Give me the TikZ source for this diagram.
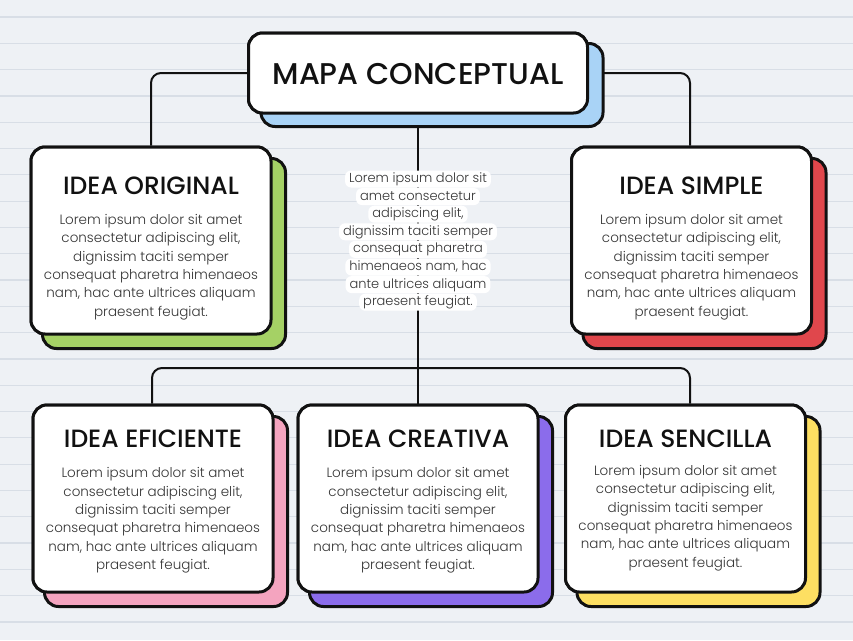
\documentclass[tikz,border=0pt]{standalone}
\usepackage{fontspec}
\newfontfamily\bodyfont{Poppins Light}
\newfontfamily\headfont{Poppins Medium}
\definecolor{paper}{HTML}{EEF1F5}
\definecolor{rule}{HTML}{D8DEE6}
\definecolor{ink}{HTML}{111111}
\definecolor{txt}{HTML}{353535}
\definecolor{blueS}{HTML}{A9D3F6}
\definecolor{greenS}{HTML}{A5D165}
\definecolor{redS}{HTML}{E0474C}
\definecolor{pinkS}{HTML}{F4A4BF}
\definecolor{purpleS}{HTML}{8B6CEB}
\definecolor{yellowS}{HTML}{FDDF62}
\pgfdeclarelayer{paperlayer}
\pgfdeclarelayer{connlayer}
\pgfsetlayers{paperlayer,connlayer,main}
\tikzset{
  frontbox/.style={draw=ink, fill=white, line width=3pt, rounded corners=14pt, inner sep=0pt},
  shadowbox/.style={draw=ink, line width=3pt, rounded corners=14pt},
  conn/.style={draw=ink, line width=2pt, rounded corners=10pt},
  headtxt/.style={font=\headfont\fontsize{25}{28}\selectfont, text=ink, inner sep=0pt},
  bodytxt/.style={font=\bodyfont\fontsize{13.5}{18.4}\selectfont, text=txt, align=center, inner sep=0pt},
  centtxt/.style={font=\bodyfont\fontsize{13}{17.6}\selectfont, text=txt, inner xsep=4pt, inner ysep=0pt, text height=12pt, text depth=5pt, anchor=base},
}
\newcommand\ideabox[9]{%
  % #1 name, #2 cx, #3 cy, #4 color, #5 title, #6 title y, #7 body y, #8 shift x, #9 shift y
  \node[frontbox, minimum width=240pt, minimum height=187pt] (#1) at (#2,#3) {};
  \draw[shadowbox, fill=#4] ([shift={(#8pt,-#9pt)}]#1.south west) rectangle ([shift={(#8pt,-#9pt)}]#1.north east);
  \node[frontbox, minimum width=240pt, minimum height=187pt] at (#1) {};
  \node[headtxt] (#1-head) at (#2,#6) {#5};
  \node[bodytxt] (#1-body) at (#2,#7) {Lorem ipsum dolor sit amet\\consectetur adipiscing elit,\\dignissim taciti semper\\consequat pharetra himenaeos\\nam, hac ante ultrices aliquam\\praesent feugiat.};
}
\begin{document}
\begin{tikzpicture}[x=1pt,y=-1pt]
\useasboundingbox (0,0) rectangle (853,640);
\begin{pgfonlayer}{paperlayer}
  \fill[paper] (0,0) rectangle (853,640);
  \foreach \k in {0,...,23} \draw[rule, line width=1.2pt] (0,17+26.3*\k) -- (853,17+26.3*\k);
\end{pgfonlayer}

% title
\node[frontbox, minimum width=339pt, minimum height=80pt] (title) at (418,73) {};
\draw[shadowbox, fill=blueS] ([shift={(14pt,-12pt)}]title.south west) rectangle ([shift={(14pt,-12pt)}]title.north east);
\node[frontbox, minimum width=339pt, minimum height=80pt] at (title) {};
\node[headtxt, font=\headfont\fontsize{30}{32}\selectfont] (titletxt) at (418,74) {MAPA CONCEPTUAL};

\ideabox{orig}{151}{240.5}{greenS}{IDEA ORIGINAL}{186}{267}{13}{13}
\ideabox{simp}{691.5}{240.5}{redS}{IDEA SIMPLE}{186}{267}{13}{13}
\ideabox{efic}{153}{498.5}{pinkS}{IDEA EFICIENTE}{439}{520.5}{13}{13}
\ideabox{crea}{418}{498.5}{purpleS}{IDEA CREATIVA}{439}{520.5}{13}{13}
\ideabox{senc}{685.5}{498.5}{yellowS}{IDEA SENCILLA}{439}{518}{13}{13}

% center text
\foreach \t [count=\i] in {Lorem ipsum dolor sit, amet consectetur, {adipiscing elit,}, dignissim taciti semper, consequat pharetra, {himenaeos nam, hac}, ante ultrices aliquam, praesent feugiat.}{
  \node[centtxt, fill=white, rounded corners=6pt, text opacity=0] at (418,182.5+17.6*\i-17.6) {\t};
}
\foreach \t [count=\i] in {Lorem ipsum dolor sit, amet consectetur, {adipiscing elit,}, dignissim taciti semper, consequat pharetra, {himenaeos nam, hac}, ante ultrices aliquam, praesent feugiat.}{
  \node[centtxt] (ctext\i) at (418,182.5+17.6*\i-17.6) {\t};
}

\coordinate (hub) at (418,368);
\begin{pgfonlayer}{connlayer}
  \draw[conn] (title.west) -| (orig.north);
  \draw[conn] (title.east) -| ([xshift=-1.5pt]simp.north);
  \draw[conn] (title.south) -- (crea.north);
  \draw[conn] ([xshift=-1pt]efic.north) |- (hub) -| ([xshift=4.5pt]senc.north);
\end{pgfonlayer}
\end{tikzpicture}
\end{document}
